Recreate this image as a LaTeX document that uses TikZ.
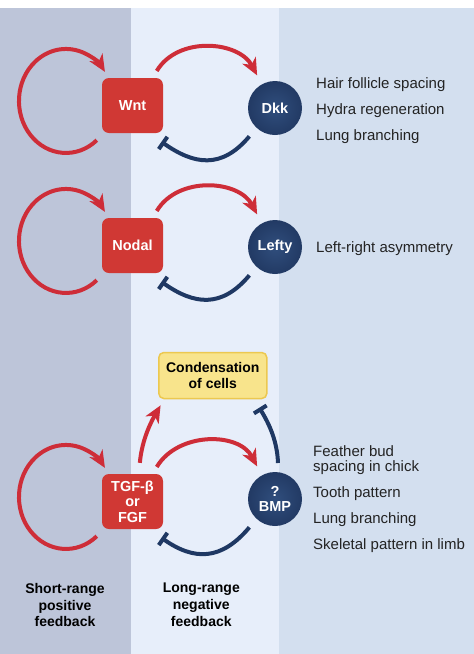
\documentclass[tikz,border=0pt]{standalone}
\usepackage{fontspec}
\setmainfont{Liberation Sans}
\usetikzlibrary{arrows.meta}
\definecolor{leftcol}{RGB}{189,197,217}
\definecolor{midcol}{RGB}{231,238,250}
\definecolor{rightcol}{RGB}{211,223,239}
\definecolor{boxred}{RGB}{208,56,52}
\definecolor{arrowred}{RGB}{206,45,56}
\definecolor{navy}{RGB}{34,58,100}
\definecolor{navylight}{RGB}{48,78,125}
\definecolor{navyline}{RGB}{31,56,99}
\definecolor{cellfill}{RGB}{248,228,140}
\definecolor{cellline}{RGB}{236,200,80}
\definecolor{textgray}{RGB}{35,35,35}
\begin{document}
\begin{tikzpicture}[x=1pt,y=1pt,
  gene/.style={rectangle,rounded corners=7pt,fill=boxred,text=white,inner sep=0pt,minimum width=61pt,minimum height=55pt,align=center,font=\bfseries\fontsize{14.5}{15.5}\selectfont},
  antag/.style={circle,inner color=navylight,outer color=navy,text=white,inner sep=0pt,minimum size=54pt,align=center,font=\bfseries\fontsize{14.5}{15}\selectfont},
  act/.style={arrowred,line width=4pt,-{Stealth[length=17pt,width=15pt,inset=5pt]}},
  inh/.style={navyline,line width=4pt,-{Bar[width=15pt]}},
  role/.style={anchor=base west,inner sep=0pt,text=textgray,font=\fontsize{15}{16}\selectfont},
  feedlabel/.style={anchor=north,inner sep=0pt,align=center,font=\bfseries\fontsize{14}{16.7}\selectfont}]
  \useasboundingbox (0,0) rectangle (474,-654);
  \fill[white] (0,0) rectangle (474,-8);
  \fill[leftcol] (0,-8) rectangle (131,-654);
  \fill[midcol] (131,-8) rectangle (279,-654);
  \fill[rightcol] (279,-8) rectangle (474,-654);

  \node[gene] (wnt) at (132.5,-105.5) {Wnt};
  \node[antag] (dkk) at (275,-108) {Dkk};
  \node[gene] (nodal) at (132.5,-245.5) {Nodal};
  \node[antag] (lefty) at (275,-247) {Lefty};
  \node[gene] (tgf) at (132.5,-501.5) {TGF-β\\or\\FGF};
  \node[antag] (bmp) at (275,-499) {?\\BMP};
  \node[rectangle,rounded corners=5pt,draw=cellline,line width=1.5pt,fill=cellfill,minimum width=108pt,minimum height=46pt,align=center,font=\bfseries\fontsize{14}{16.5}\selectfont] (cells) at (212.8,-375.5) {Condensation\\of cells};

  \draw[act] ([shift={(-5,-7)}]wnt.south west) arc[start angle=-49,end angle=-326,x radius=47,y radius=52];
  \draw[act,shorten <=8pt,shorten >=10pt,looseness=1.15] (wnt.54) to[out=59,in=118] (dkk.119);
  \draw[inh,shorten <=11pt,shorten >=15pt,looseness=1.3] (dkk.227) to[out=-130,in=-35] (wnt.-59);

  \draw[act] ([shift={(-5,-7)}]nodal.south west) arc[start angle=-49,end angle=-326,x radius=47,y radius=52];
  \draw[act,shorten <=8pt,shorten >=10pt,looseness=1.15] (nodal.54) to[out=59,in=118] (lefty.119);
  \draw[inh,shorten <=11pt,shorten >=15pt,looseness=1.3] (lefty.227) to[out=-130,in=-35] (nodal.-59);

  \draw[act] ([shift={(-5,-7)}]tgf.south west) arc[start angle=-49,end angle=-326,x radius=47,y radius=52];
  \draw[act,shorten <=8pt,shorten >=10pt,looseness=1.15] (tgf.54) to[out=59,in=118] (bmp.119);
  \draw[inh,shorten <=11pt,shorten >=15pt,looseness=1.3] (bmp.227) to[out=-130,in=-35] (tgf.-59);
  \draw[act,shorten <=11pt,shorten >=7pt] (tgf.77) to[out=85,in=-120] (cells.206);
  \draw[inh,shorten <=9pt,shorten >=10pt] (bmp.83) to[out=92,in=-58] (cells.-30);

  \node[role] (hair) at (316,-88.3) {Hair follicle spacing};
  \node[role] (hydra) at (316,-114) {Hydra regeneration};
  \node[role] (lung1) at (316,-140) {Lung branching};
  \node[role] (leftright) at (316,-252.7) {Left-right asymmetry};
  \node[role] (feather) at (313,-456.7) {Feather bud};
  \node[role] (chick) at (313,-471.7) {spacing in chick};
  \node[role] (tooth) at (313,-497.7) {Tooth pattern};
  \node[role] (lung2) at (313,-523.3) {Lung branching};
  \node[role] (limb) at (313,-549.3) {Skeletal pattern in limb};

  \node[feedlabel] (short) at (65,-583) {Short-range\\positive\\feedback};
  \node[feedlabel] (long) at (201.3,-583) {Long-range\\negative\\feedback};
\end{tikzpicture}
\end{document}
